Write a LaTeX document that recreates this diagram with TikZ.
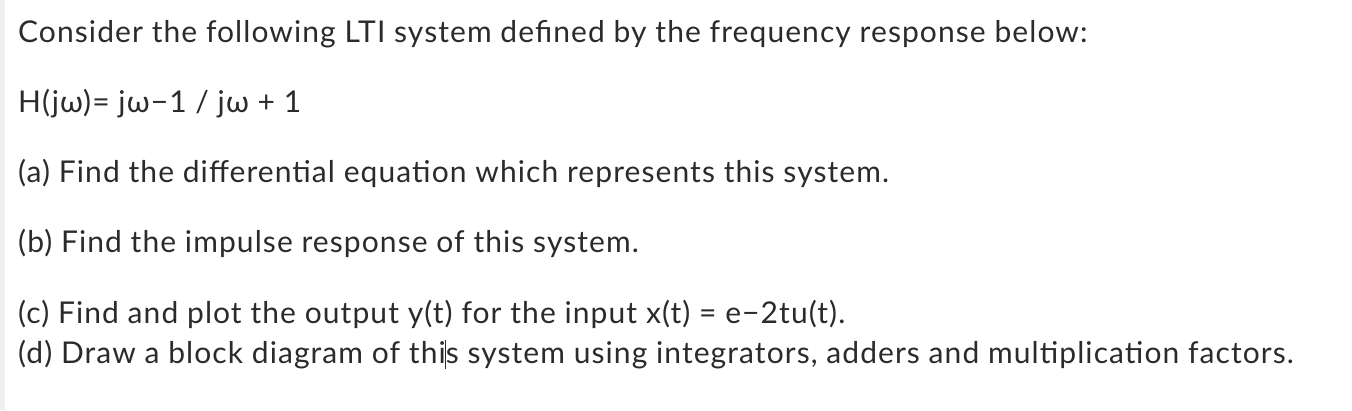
\documentclass[tikz,border=0pt]{standalone}
\usepackage{fontspec}
\setmainfont[LetterSpace=3.6]{Lato}
\definecolor{txt}{HTML}{2B2B2B}
\definecolor{edge}{HTML}{F0F0F0}
\begin{document}
\begin{tikzpicture}[x=1pt,y=1pt,
  line/.style={anchor=base west,inner sep=0pt,text=txt,font=\fontsize{30}{34}\selectfont}]
\useasboundingbox (0,0) rectangle (1352,-410);
\fill[white] (0,0) rectangle (1352,-410);
\fill[edge] (0,0) rectangle (5,-410);
\node[line] (l1) at (18,-42) {Consider the following LTI system defined by the frequency response below:};
\node[line] (l2) at (18,-112) {H(jω)= jω−1 / jω + 1};
\node[line] (l3) at (18,-182) {(a) Find the differential equation which represents this system.};
\node[line] (l4) at (18,-252) {(b) Find the impulse response of this system.};
\node[line] (l5) at (18,-323) {(c) Find and plot the output y(t) for the input x(t) = e−2tu(t).};
\node[line] (l6) at (18,-363) {(d) Draw a block diagram of thi\rlap{\kern-0.5pt\rule[-6pt]{1pt}{29pt}}s system using integrators, adders and multiplication factors.};
\end{tikzpicture}
\end{document}
